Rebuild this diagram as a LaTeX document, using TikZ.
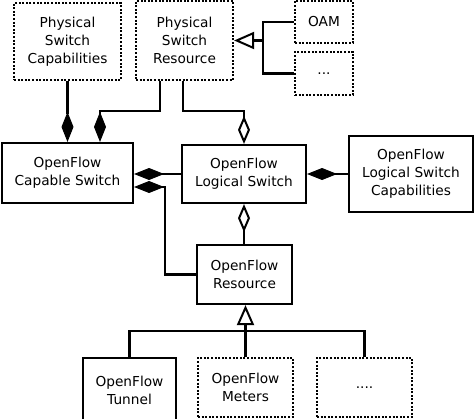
\documentclass[tikz,border=0pt]{standalone}
\usepackage{fontspec}
\setmainfont{DejaVu Sans}
\usetikzlibrary{arrows.meta}
\begin{document}
\begin{tikzpicture}[x=1pt,y=-1pt,
  box/.style={draw,line width=2.2pt,align=center,inner sep=0pt,font=\fontsize{13.7}{18}\selectfont},
  dbox/.style={box,dash pattern=on 2pt off 1.6pt},
  conn/.style={line width=2.2pt},
  fdia/.style={conn,-{Diamond[length=30pt,width=12pt,line width=1pt]}},
  odia/.style={conn,-{Diamond[open,length=28pt,width=12pt,line width=2pt]}},
  otri/.style={conn,-{Triangle[open,length=20pt,width=17pt,line width=2pt]}}]
\useasboundingbox (0,0) rectangle (474,418);
\node[dbox,minimum width=107pt,minimum height=77pt] (psc) at (67.5,41.5) {Physical\\Switch\\Capabilities};
\node[dbox,minimum width=97pt,minimum height=79pt] (psr) at (184.5,40.5) {Physical\\Switch\\Resource};
\node[dbox,minimum width=58pt,minimum height=42pt] (oam) at (324,22) {OAM};
\node[dbox,minimum width=58pt,minimum height=43pt] (d1) at (324,73.5) {...};
\node[box,minimum width=131pt,minimum height=60pt] (cs) at (67.5,173) {OpenFlow\\Capable Switch};
\node[box,minimum width=124pt,minimum height=58pt] (ls) at (244,174) {OpenFlow\\Logical Switch};
\node[box,minimum width=124pt,minimum height=76pt] (lsc) at (411,174) {OpenFlow\\Logical Switch\\Capabilities};
\node[box,minimum width=95pt,minimum height=59pt] (res) at (244.5,274.5) {OpenFlow\\Resource};
\node[box,minimum width=93pt,minimum height=64pt] (tun) at (129.5,390) {OpenFlow\\Tunnel};
\node[dbox,minimum width=95pt,minimum height=59pt] (met) at (245.5,387.5) {OpenFlow\\Meters};
\node[dbox,minimum width=95pt,minimum height=59pt] (d2) at (364.5,387.5) {....};
% Physical switch capabilities -> capable switch
\draw[fdia] (psc.south) -- (cs.north -| psc.south);
% Physical switch resource -> capable switch
\coordinate (a1) at (160,111);
\coordinate (a2) at (100,111);
\draw[fdia] (psr.south -| a1) -- (a1) -- (a2) -- (cs.north -| a2);
% Physical switch resource -> logical switch
\coordinate (b1) at (183,111);
\draw[odia] (psr.south -| b1) -- (b1) -- (b1 -| ls.north) -- (ls.north);
% OAM / ... -> physical switch resource
\coordinate (jo) at (263,40.5);
\draw[conn] (oam.west) -| (jo);
\draw[conn] (d1.west) -| (jo);
\draw[otri] (jo) -- (psr.east);
% Logical switch -> capable switch
\draw[fdia] (ls.west) -- (cs.east |- ls.west);
% Resource -> capable switch
\coordinate (r1) at (165,187);
\draw[fdia] (res.west) -| (r1) -- (cs.east |- r1);
% Logical switch capabilities -> logical switch
\draw[fdia] (lsc.west) -- (ls.east |- lsc.west);
% Resource -> logical switch
\draw[odia] (res.north -| ls.south) -- (ls.south);
% Inheritance of resources
\coordinate (jr) at (245,331);
\draw[otri] (met.north) -- (res.south -| met.north);
\draw[conn] (tun.north) |- (jr) -| (d2.north);
\end{tikzpicture}
\end{document}
